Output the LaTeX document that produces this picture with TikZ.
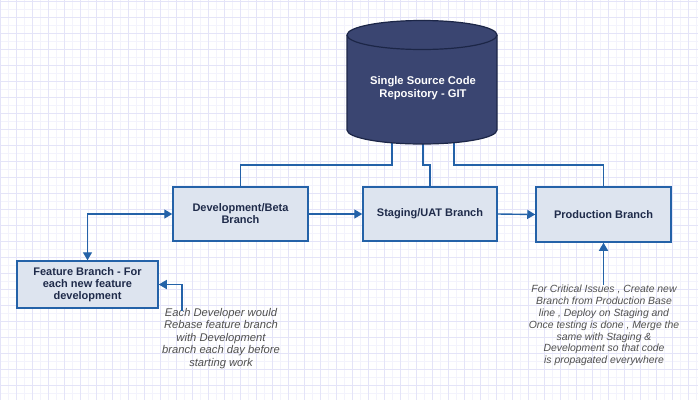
\documentclass[tikz,border=0pt]{standalone}
\usepackage{fontspec}
\setmainfont{Liberation Sans}
\usetikzlibrary{arrows.meta}
\definecolor{gridmaj}{HTML}{E4E4F8}
\definecolor{gridmin}{HTML}{F3F3FC}
\definecolor{boxfill}{HTML}{DDE4EF}
\definecolor{boxline}{HTML}{2462A8}
\definecolor{cylfill}{HTML}{3A4571}
\definecolor{cylline}{HTML}{1C2647}
\definecolor{boxtext}{HTML}{1F2B4A}
\definecolor{notetext}{HTML}{4F4F4F}
\tikzset{
  box/.style={draw=boxline, line width=1.5pt, fill=boxfill, align=center,
    font=\bfseries\fontsize{11}{12}\selectfont, text=boxtext, inner sep=2pt},
  conn/.style={draw=boxline, line width=1.4pt},
  tip/.style={-{Triangle[length=8pt,width=9pt]}},
  note/.style={align=center, text=notetext, inner sep=0pt, anchor=north}
}
\begin{document}
\begin{tikzpicture}[x=1pt,y=-1pt]
\useasboundingbox (0,0) rectangle (698,400);
\fill[white] (0,0) rectangle (698,400);
\foreach \i in {8,24,...,696} \draw[gridmin, line width=0.6pt] (\i,0) -- (\i,400);
\foreach \i in {9,25,...,400} \draw[gridmin, line width=0.6pt] (0,\i) -- (698,\i);
\foreach \i in {0,16,...,698} \draw[gridmaj, line width=0.8pt] (\i,0) -- (\i,400);
\foreach \i in {1,17,...,400} \draw[gridmaj, line width=0.8pt] (0,\i) -- (698,\i);

% boxes
\node[box, minimum width=135pt, minimum height=54pt] (dev) at (240.5,214) {Development/Beta\\Branch};
\node[box, minimum width=134pt, minimum height=54pt] (stg) at (430,214) {Staging/UAT Branch};
\node[box, minimum width=135pt, minimum height=55pt] (prod) at (603.5,214.5) {Production Branch};
\node[box, minimum width=141pt, minimum height=47pt] (feat) at (87.5,284.5) {Feature Branch - For\\each new feature\\development};

% connectors from repository
\coordinate (c1) at (392,140);
\coordinate (c2) at (423,140);
\coordinate (c3) at (454,140);
\draw[conn] (c1) -- ++(0,25) -| (dev.north);
\draw[conn] (c2) -- ++(0,25) -| (stg.north);
\draw[conn] (c3) -- ++(0,25) -| (prod.north);

% repository cylinder
\fill[cylfill] (347,35) -- (347,130) arc[start angle=180, end angle=360, x radius=75, y radius=-14] -- (497,35) -- cycle;
\draw[cylline, line width=1.2pt] (347,35) -- (347,130) arc[start angle=180, end angle=360, x radius=75, y radius=-14] -- (497,35);
\draw[cylline, fill=cylfill, line width=1.2pt] (422,35) ellipse[x radius=75, y radius=14.5];
\node[align=center, text=white, font=\bfseries\fontsize{11.2}{12.5}\selectfont] (repo) at (423,88) {Single Source Code\\Repository - GIT};

% flow arrows
\draw[conn, tip] (dev.east) -- (stg.west);
\draw[conn, tip] (stg.east) -- (prod.west);
\draw[conn, {Triangle[length=8pt,width=9pt]}-{Triangle[length=8pt,width=9pt]}] (feat.north) |- (dev.west);

% notes
\node[note, font=\itshape\fontsize{11.2}{12.5}\selectfont] (note1) at (221,308) {Each Developer would\\Rebase feature branch\\with Development\\branch each day before\\starting work};
\coordinate (a1) at (182,311);
\draw[conn, tip] (a1) |- (feat.east);

\node[note, font=\itshape\fontsize{10.4}{11.85}\selectfont] (note2) at (604,285) {For Critical Issues , Create new\\Branch from Production Base\\line , Deploy on Staging and\\Once testing is done , Merge the\\same with Staging \&\\Development so that code\\is propagated everywhere};
\draw[conn, tip] (prod.south |- note2.north) -- (prod.south);
\end{tikzpicture}
\end{document}
